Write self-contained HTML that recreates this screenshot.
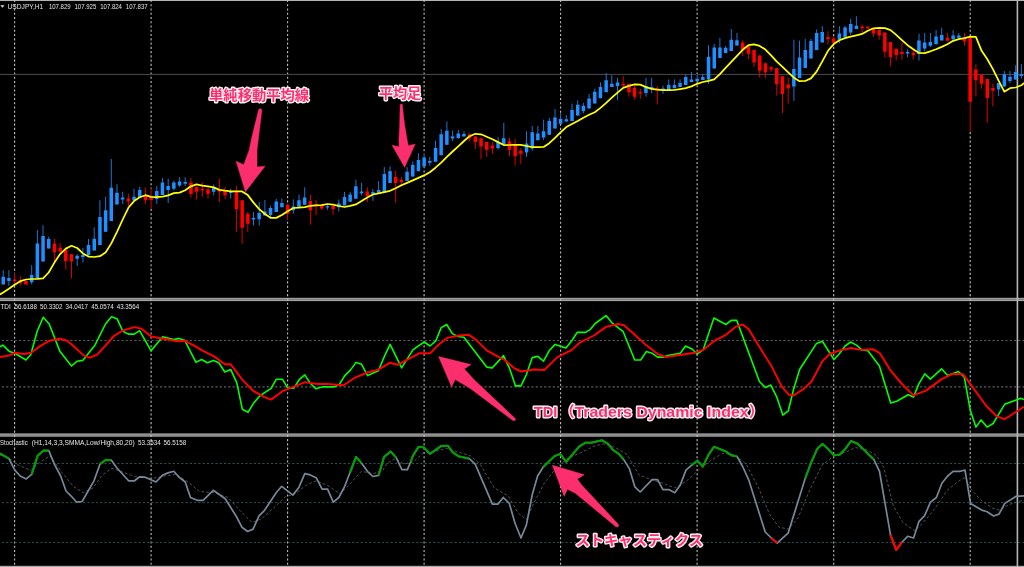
<!DOCTYPE html><html><head><meta charset="utf-8"><title>chart</title><style>html,body{margin:0;padding:0;background:#000;overflow:hidden}svg{display:block}text{font-family:"Liberation Sans",sans-serif}</style></head><body>
<svg width="1024" height="567" viewBox="0 0 1024 567">
<rect width="1024" height="567" fill="#000"/>
<rect x="0" y="297.8" width="1024" height="3.3" fill="#a4a4a4"/>
<rect x="0" y="298.8" width="1024" height="1.2" fill="#808080"/>
<rect x="0" y="433.4" width="1024" height="3.3" fill="#a4a4a4"/>
<rect x="0" y="434.5" width="1024" height="1.2" fill="#808080"/>
<rect x="0" y="0" width="1024" height="1" fill="#b4b4b4"/>
<rect x="0" y="565.8" width="1024" height="1.2" fill="#aaaaaa"/>
<path d="M14.6 -0.1V567M151.1 -0.1V567M287.6 -0.1V567M424.1 -0.1V567M560.6 -0.1V567M697.1 -0.1V567M833.7 -0.1V567M970.2 -0.1V567" stroke="#bebebe" stroke-width="1.1" stroke-dasharray="2.1 2.164" fill="none"/>
<path d="M0 74.4H1024" stroke="#4c4c4c" stroke-width="1"/>
<path d="M-2.35 340.5H1024M-2.35 386.8H1024" stroke="#5c5c5c" stroke-width="1.2" stroke-dasharray="2.2 2.07" fill="none"/>
<path d="M-2.35 463.5H1024M-2.35 502.6H1024M-2.35 542.45H1024" stroke="#26524f" stroke-width="1" stroke-dasharray="2.2 2.07" fill="none"/>
<path d="M1017.4 0V567" stroke="#b4b4b4" stroke-width="1.6"/>
<rect x="14" y="273.2" width="2" height="11.7" fill="#000"/>
<rect x="150" y="188.7" width="2" height="20.3" fill="#000"/>
<rect x="287" y="204.8" width="2" height="15" fill="#000"/>
<rect x="423" y="154" width="2" height="12.4" fill="#000"/>
<rect x="560" y="113" width="2" height="10.7" fill="#000"/>
<rect x="696" y="74" width="2" height="7.2" fill="#000"/>
<rect x="833" y="36" width="2" height="10" fill="#000"/>
<rect x="969" y="37.8" width="2" height="93.8" fill="#000"/>
<path d="M3.2 270.2V284.4M8.9 270.2V285.8M31.7 265.1V284.4M37.4 230V278.6M43 225.2V261.5M48.7 236.7V248.6M77.2 254.3V266M82.9 248V262.4M88.5 239V255.2M94.2 227.4V250.4M99.9 200.3V245M105.6 196.7V231.8M111.3 159V221M117 184.2V204.5M122.7 191.7V204M134 188.7V200.3M139.7 186.9V197.6M156.8 186V203.9M162.5 177.9V195M168.2 178.8V203M173.9 180.6V190.4M179.6 177V186.9M185.2 177.3V186M213.7 184.5V195.3M230.7 188.7V198.5M253.5 212V225.5M259.2 202.1V225.5M264.9 200V215.6M270.6 205.7V217M276.2 198.9V212M281.9 198.5V207.2M293.3 199.4V213.8M299 194.6V207.9M304.7 187.4V204.8M327.4 203.9V209.9M338.8 199.5V211.3M344.5 191.9V205.4M350.2 191.9V201.8M355.9 179.7V198.7M361.6 182.9V195.5M372.9 188.9V200.9M378.6 181.1V192.8M384.3 167.1V191.9M390 166.4V182.9M407.1 167.1V181.1M412.8 161.3V176.6M418.4 153.3V171.2M424.1 154V166.4M429.8 156.9V165.8M435.5 140.7V161.8M441.2 129.1V155.3M446.9 121.5V144.8M452.6 130.4V141.2M458.3 129.9V138.2M464 131.3V136.4M498.1 137.1V149.7M503.8 122.9V143.9M526.5 131.3V156.9M532.2 126V150.8M537.9 126V140.3M543.6 119.7V140M549.3 118V134.8M555 109.1V128.5M560.6 113V123.7M566.3 115.1V121.6M572 103.6V121M577.7 100.3V115.6M583.4 103V113.3M589.1 94V108.4M594.8 88.7V103.6M600.5 82.4V98.2M606.2 73V92.2M611.8 75.2V86.9M617.5 77.9V100.3M646 77.9V96.7M651.7 77.9V93.1M663 85.6V93.8M668.7 79.5V90M674.4 79.4V88.3M680.1 79.4V86.9M685.8 74.3V85.1M691.5 72.2V81.9M697.2 74V81.2M702.8 74V80.1M708.5 45.2V83.7M714.2 43.8V68.6M719.9 38V58.1M725.6 45.9V53.1M731.3 29V51M737 33V45.6M793.9 39.7V100.8M799.5 40.6V78M805.2 38.8V67.9M810.9 38.8V58.5M816.6 29.4V49.9M822.3 26.2V42.4M839.4 26.2V43.3M845 25.8V37M850.7 19V34.8M856.4 16.3V28.9M907.6 49.3V57.3M919 33.6V60.5M924.7 33V51.4M930.4 33V47.2M936.1 30.2V44.2M941.7 27.7V40.4M953.1 30.2V42.1M958.8 33V40M998.6 83.1V95.8M1004.3 71.1V86.5M1010 71.1V83.1M1015.7 65.3V79.5M1021.4 64.1V78.5" stroke="#1b82e8" stroke-width="0.92" fill="none"/>
<path d="M14.6 273.2V284.9M20.3 276.3V285.5M26 281V284.4M54.4 238.7V261.2M60.1 243.2V252.5M65.8 249.8V269.6M71.5 254.3V278.3M128.4 193.7V206.6M145.4 187.4V203.9M151.1 188.7V209M190.9 177.9V197.6M196.6 186.9V199.4M202.3 182.4V196.7M208 187.8V198.5M219.4 178.8V202.1M225.1 186.9V198.9M236.4 186V231.8M242.1 200.3V243.8M247.8 212V231.8M287.6 204.8V219.8M310.4 194.6V224.6M316.1 200V215.1M321.8 203.9V210M333.1 206V214.5M367.3 187.4V202.3M395.7 170.7V202.7M401.4 177.2V186.5M469.6 133.1V141.2M475.3 136.4V149M481 137V159.2M486.7 142.1V156.9M492.4 142.1V153.8M509.5 137.6V156.2M515.1 138.9V165.5M520.8 148V163.7M623.2 76.1V87.8M628.9 83.8V96.7M634.6 86V99.4M640.3 88.7V98.9M657.3 86V104.3M742.7 40.2V56M748.4 45.9V59M754 50.1V66.8M759.7 55.4V77.6M765.4 63.2V77.9M771.1 66V72.2M776.8 68V95.7M782.5 76.2V113M788.2 77.4V103.5M828 31.2V44.5M833.7 36V46M862.1 24.4V32.5M867.8 26.7V28.5M873.5 28V37M879.2 29.8V39.7M884.9 32.5V57.6M890.6 42V66.1M896.2 48.7V60.5M901.9 42.5V59.8M913.3 49.9V59.4M947.4 33V40.8M964.5 33V45.7M970.2 37.8V131.6M975.9 64.1V96.4M981.6 74.7V88.6M987.2 78.9V122.9M992.9 83.8V106.4" stroke="#e80000" stroke-width="0.95" fill="none"/>
<path d="M1.5 276.8h3.5V284.4h-3.5zM7.2 278.1h3.5V281h-3.5zM29.9 275h3.5V282.2h-3.5zM35.6 243.5h3.5V278.6h-3.5zM41.3 236h3.5V261.5h-3.5zM47 239h3.5V248.6h-3.5zM75.4 255.8h3.5V258.8h-3.5zM81.1 254.9h3.5V257h-3.5zM86.8 245h3.5V255.2h-3.5zM92.5 238.7h3.5V250.4h-3.5zM98.2 217h3.5V245h-3.5zM103.9 210.2h3.5V231.8h-3.5zM109.5 187.8h3.5V221h-3.5zM115.2 192.8h3.5V204.5h-3.5zM120.9 197.6h3.5V199.4h-3.5zM132.3 196.7h3.5V200.3h-3.5zM138 189.9h3.5V197.6h-3.5zM155 191h3.5V198.9h-3.5zM160.7 182.4h3.5V195h-3.5zM166.4 186h3.5V189.9h-3.5zM172.1 182.4h3.5V188.7h-3.5zM177.8 181.5h3.5V185.4h-3.5zM183.5 182h3.5V183.8h-3.5zM211.9 187.8h3.5V191.7h-3.5zM229 191h3.5V193.1h-3.5zM251.7 218h3.5V219.4h-3.5zM257.4 212.9h3.5V219.2h-3.5zM263.1 211.5h3.5V215.6h-3.5zM268.8 207.9h3.5V215.1h-3.5zM274.5 201.6h3.5V212h-3.5zM280.2 203h3.5V207.2h-3.5zM291.6 206.6h3.5V210.2h-3.5zM297.2 200.3h3.5V207.9h-3.5zM302.9 197.6h3.5V204.8h-3.5zM325.7 206.3h3.5V207.5h-3.5zM337.1 203.6h3.5V207.2h-3.5zM342.8 196.9h3.5V205.4h-3.5zM348.4 194.6h3.5V201.8h-3.5zM354.1 186.2h3.5V198.7h-3.5zM359.8 191.4h3.5V193.2h-3.5zM371.2 191.9h3.5V194.1h-3.5zM376.9 190.1h3.5V192.8h-3.5zM382.6 173.9h3.5V191.9h-3.5zM388.3 171.2h3.5V182.9h-3.5zM405.3 171.8h3.5V181.1h-3.5zM411 164.9h3.5V176.6h-3.5zM416.7 159.9h3.5V171.2h-3.5zM422.4 157.4h3.5V166.4h-3.5zM428.1 161h3.5V162.8h-3.5zM433.8 147.9h3.5V161.8h-3.5zM439.4 134.2h3.5V155.3h-3.5zM445.1 130.7h3.5V144.8h-3.5zM450.8 136.4h3.5V138.5h-3.5zM456.5 133.5h3.5V138.2h-3.5zM462.2 134h3.5V136.4h-3.5zM496.3 142.1h3.5V147.9h-3.5zM502 138.2h3.5V143.9h-3.5zM524.8 143.6h3.5V152.6h-3.5zM530.5 132.2h3.5V148.4h-3.5zM536.1 133.5h3.5V140.3h-3.5zM541.8 131.3h3.5V137.6h-3.5zM547.5 121h3.5V134.8h-3.5zM553.2 117.6h3.5V128.5h-3.5zM558.9 119.1h3.5V123.7h-3.5zM564.6 119.2h3.5V121.6h-3.5zM570.3 109.9h3.5V121h-3.5zM576 104.8h3.5V115.6h-3.5zM581.6 105.7h3.5V111.1h-3.5zM587.3 98.5h3.5V108.4h-3.5zM593 91.7h3.5V103.6h-3.5zM598.7 86.9h3.5V98.2h-3.5zM604.4 80.2h3.5V92.2h-3.5zM610.1 83.8h3.5V86.9h-3.5zM615.8 82.4h3.5V86h-3.5zM644.2 86h3.5V93.1h-3.5zM649.9 86.9h3.5V89.2h-3.5zM661.3 88.5h3.5V90.4h-3.5zM667 85h3.5V90h-3.5zM672.7 85.1h3.5V88.3h-3.5zM678.3 83h3.5V86.9h-3.5zM684 77h3.5V85.1h-3.5zM689.7 79.4h3.5V81.9h-3.5zM695.4 78.8h3.5V81.2h-3.5zM701.1 77h3.5V80.1h-3.5zM706.8 56.7h3.5V79.4h-3.5zM712.5 47.4h3.5V68.6h-3.5zM718.2 47.4h3.5V58.1h-3.5zM723.9 47.7h3.5V53.1h-3.5zM729.5 39.8h3.5V51h-3.5zM735.2 40.2h3.5V45.6h-3.5zM792.1 69h3.5V86.4h-3.5zM797.8 57.6h3.5V78h-3.5zM803.5 49.9h3.5V67.9h-3.5zM809.2 40.9h3.5V58.5h-3.5zM814.9 33h3.5V49.9h-3.5zM820.5 31.9h3.5V42.4h-3.5zM837.6 33.4h3.5V39.7h-3.5zM843.3 27.6h3.5V37h-3.5zM849 24h3.5V32.5h-3.5zM854.7 25.8h3.5V28.9h-3.5zM905.9 52h3.5V53.5h-3.5zM917.2 40.4h3.5V54.1h-3.5zM922.9 42.5h3.5V48.4h-3.5zM928.6 42.1h3.5V45.7h-3.5zM934.3 36.6h3.5V44.2h-3.5zM940 35.1h3.5V40.4h-3.5zM951.4 35.5h3.5V39.3h-3.5zM957.1 35.5h3.5V37.8h-3.5zM996.9 83.1h3.5V89.5h-3.5zM1002.6 74.2h3.5V86.5h-3.5zM1008.2 76.8h3.5V81h-3.5zM1013.9 72.1h3.5V79.5h-3.5zM1019.6 74.2h3.5V75.9h-3.5z" fill="#1e90ff"/>
<path d="M12.8 279.5h3.5V281h-3.5zM18.5 280.4h3.5V283.1h-3.5zM24.2 281h3.5V284.4h-3.5zM52.7 243.5h3.5V252.2h-3.5zM58.4 247.7h3.5V251.6h-3.5zM64 249.8h3.5V261h-3.5zM69.7 254.3h3.5V261.5h-3.5zM126.6 198.5h3.5V201.2h-3.5zM143.7 195h3.5V200.3h-3.5zM149.4 196.4h3.5V200h-3.5zM189.2 182.4h3.5V194h-3.5zM194.9 186.9h3.5V191.7h-3.5zM200.6 188.7h3.5V190.4h-3.5zM206.2 189.2h3.5V194h-3.5zM217.6 189.9h3.5V191.7h-3.5zM223.3 190.5h3.5V195.3h-3.5zM234.7 191.3h3.5V209.3h-3.5zM240.4 200.3h3.5V227.7h-3.5zM246.1 213.8h3.5V223.7h-3.5zM285.9 204.8h3.5V213.8h-3.5zM308.6 200.9h3.5V210.2h-3.5zM314.3 203.9h3.5V206.1h-3.5zM320 205.4h3.5V208.4h-3.5zM331.4 206h3.5V209h-3.5zM365.5 191.6h3.5V195.9h-3.5zM393.9 177h3.5V182.9h-3.5zM399.6 179.9h3.5V182h-3.5zM467.9 134.6h3.5V138.5h-3.5zM473.6 136.4h3.5V142.1h-3.5zM479.3 138.2h3.5V146.6h-3.5zM485 142.1h3.5V149.7h-3.5zM490.6 145.4h3.5V148.4h-3.5zM507.7 141.2h3.5V149.7h-3.5zM513.4 143.9h3.5V156.2h-3.5zM519.1 150.8h3.5V153.8h-3.5zM621.5 83.8h3.5V85.6h-3.5zM627.2 83.8h3.5V92.2h-3.5zM632.8 87.8h3.5V96.7h-3.5zM638.5 92.2h3.5V93.5h-3.5zM655.6 88.3h3.5V90.4h-3.5zM740.9 42.5h3.5V50.1h-3.5zM746.6 45.9h3.5V53.7h-3.5zM752.3 50.1h3.5V62.6h-3.5zM758 55.4h3.5V70.7h-3.5zM763.7 63.2h3.5V72.2h-3.5zM769.4 67.2h3.5V69.6h-3.5zM775 68h3.5V84.3h-3.5zM780.7 76.2h3.5V94.1h-3.5zM786.4 84.6h3.5V88.2h-3.5zM826.2 37h3.5V39.3h-3.5zM831.9 38.4h3.5V42.7h-3.5zM860.4 26.5h3.5V28.3h-3.5zM866 26.7h3.5V28.5h-3.5zM871.7 28h3.5V33.4h-3.5zM877.4 29.8h3.5V35.5h-3.5zM883.1 32.5h3.5V51.7h-3.5zM888.8 42h3.5V57.1h-3.5zM894.5 48.7h3.5V55h-3.5zM900.2 52h3.5V54.1h-3.5zM911.6 52.7h3.5V55.2h-3.5zM945.7 37.8h3.5V40.8h-3.5zM962.7 37.8h3.5V41.4h-3.5zM968.4 37.8h3.5V101.7h-3.5zM974.1 69.6h3.5V80.2h-3.5zM979.8 74.7h3.5V83.8h-3.5zM985.5 78.9h3.5V97.9h-3.5zM991.2 88h3.5V90.7h-3.5z" fill="#ff0000"/>
<polyline points="0,294.4 3.2,292.4 8.9,288.8 14.6,284.8 20.3,281.2 26,279.5 31.7,279 37.4,278.8 43,278.4 48.7,272.5 54.4,262.6 60.1,254.1 65.8,248.6 71.5,245.8 77.2,248 82.9,253.4 88.5,256.6 94.2,257 99.9,256.2 105.6,252.5 111.3,243.4 117,231.8 122.7,219.5 128.4,207.8 134,201.1 139.7,197.3 145.4,195.2 151.1,196.8 156.8,197.1 162.5,196.7 168.2,195.4 173.9,193.1 179.6,192.6 185.2,190.2 190.9,186.3 196.6,184.4 202.3,185.6 208,186.4 213.7,187.4 219.4,189.9 225.1,190.7 230.7,191.3 236.4,191.3 242.1,191.4 247.8,195.1 253.5,202.6 259.2,209.1 264.9,214 270.6,217.8 276.2,217.9 281.9,215 287.6,211.3 293.3,208 299,207.7 304.7,207.1 310.4,205.9 316.1,205.4 321.8,205.2 327.4,204 333.1,204.7 338.8,206 344.5,207 350.2,205.9 355.9,204.4 361.6,201.1 367.3,197.6 372.9,194.5 378.6,193.3 384.3,192.1 390,190.8 395.7,188.2 401.4,185.3 407.1,182.9 412.8,180.4 418.4,177.9 424.1,175.4 429.8,172.2 435.5,167.7 441.2,162.6 446.9,156.9 452.6,151.5 458.3,146.3 464,141 469.6,136.2 475.3,133.8 481,134.3 486.7,136.7 492.4,139.2 498.1,142.1 503.8,145.1 509.5,145 515.1,144.8 520.8,144.9 526.5,146 532.2,147.1 537.9,147.2 543.6,147 549.3,143.2 555,137.9 560.6,132.3 566.3,127.1 572,124.1 577.7,121.1 583.4,117.7 589.1,114.8 594.8,112.2 600.5,107.9 606.2,102.9 611.8,97.7 617.5,92.6 623.2,87.9 628.9,85.9 634.6,84.3 640.3,84.6 646,87.1 651.7,88.9 657.3,89.6 663,90.1 668.7,90.1 674.4,90 680.1,89.1 685.8,88.2 691.5,86.4 697.2,83.8 702.8,82 708.5,80.9 714.2,79.3 719.9,74.1 725.6,67.8 731.3,61.8 737,55.8 742.7,49.8 748.4,45.2 754,44.4 759.7,45.9 765.4,49.6 771.1,55.4 776.8,61.7 782.5,66.9 788.2,72.4 793.9,77.7 799.5,81.2 805.2,81 810.9,78.4 816.6,71.6 822.3,61.3 828,50.8 833.7,44.1 839.4,40.3 845,38.1 850.7,36.6 856.4,35.3 862.1,33.9 867.8,30.7 873.5,28.3 879.2,27.8 884.9,28.2 890.6,30.1 896.2,34.8 901.9,40.1 907.6,45.2 913.3,49.3 919,53 924.7,53.1 930.4,51.3 936.1,49.2 941.7,46.9 947.4,44.2 953.1,40.8 958.8,39.2 964.5,38.1 970.2,36.6 975.9,36.8 981.6,50.8 987.2,59 992.9,69.1 998.6,80.7 1004.3,91.7 1010,88.2 1015.7,87.5 1021.4,85.2 1024,83.1" fill="none" stroke="#ffff00" stroke-width="1.75" stroke-linejoin="round" stroke-linecap="round"/>
<clipPath id="c1"><rect x="0" y="301" width="1024" height="132.4"/></clipPath>
<g clip-path="url(#c1)" fill="none" stroke-linejoin="round" stroke-width="1.85">
<polyline points="0,346.8 2.9,345.1 9.6,351.6 14.9,353.2 25.9,360 30.7,354.7 37.2,331.2 43.2,317.3 49.2,324 60,351.6 71.5,366 77.2,361.2 82.7,360.4 94.7,345.6 105.5,324 111.5,316.8 117,318.7 122.8,331.2 128.3,334.1 134.3,334.1 139.6,330.7 151.1,350.8 162.6,336.7 173.9,339.6 178.7,338.4 184.7,340.3 196,362.4 201.5,359.5 207.3,362.8 213.5,360.4 218.8,362.8 224.8,372 230.8,369.6 236.8,382.8 242.3,409.2 248,412.3 253.6,403.2 259.6,396 271.1,388.3 276.4,379.2 282.4,379.2 287.9,388.3 293.7,388.3 299.2,379.7 304.7,374.9 310.5,383.5 316,388.8 322,386.9 334,386.9 339.3,384.5 344.8,375.6 350.8,369.6 356,362.4 361.6,364.3 367.6,375.6 378.4,370.8 384.4,356.4 390.1,344.4 401.6,367.9 412.9,349.9 418.8,345.6 424.4,342 429.9,346 435.6,341.2 441.2,327.6 446.7,324.5 452.4,333.6 457.9,336.5 463.9,337.2 486.7,367.1 492.2,367.9 503.5,355.6 509.5,368.3 515.5,385.9 521,385.9 526.3,374.8 532.3,357.6 537.8,356.4 543.5,361.2 549.1,350.8 555.1,344.4 565.9,348 571.8,340.8 577.2,332.4 585.6,332.4 590.4,329.3 595.2,323.5 606,315.6 612,322.8 623.2,331.7 634.7,360 640.7,360 646.3,351.6 652,353.2 657.5,357.1 663.5,357.1 668.8,355.2 680.3,353.2 685.6,346 692.3,349.2 697.1,354 703.1,349.9 713.9,318 725.9,324.5 731.2,320.4 736.7,320.4 759.4,381.5 765.3,387.5 770.8,385.1 776.8,397.1 782.8,415.1 788.3,410.8 793.6,389.2 799.6,369.5 816.4,343.6 822.4,341.2 833.9,359.5 839.1,354 845.1,346 850.6,342 856.4,345.1 861.9,349.9 867.9,350.8 879.4,365.9 890.7,403.1 896.7,401.2 908.2,394.7 913.5,397.1 918.8,383.9 924.8,373.9 930.3,379.1 941.6,368.8 947.6,375.5 958.3,371.5 964.3,377.2 970.3,410.3 975.9,427.1 981.1,419.9 987.1,427.1 993.1,423.5 1004.6,404.3 1020.7,398.3 1024,399.5" stroke="#00ff00" stroke-width="1.6"/>
<polyline points="0,357.1 8.4,355.6 14.9,352.8 24,354 31.2,352.8 40.8,345.6 49.2,340.8 60,338.8 67.1,340.8 74.3,346.8 83.9,355.6 89.9,357.6 97.1,354.7 105.5,345.6 113.9,336 122.3,330.7 134.3,327.1 141.5,328.8 151.1,336.5 163.1,338.8 177.5,341.2 184.7,340.8 194.2,345.6 202,350.4 214,356.4 224.8,364.3 230.8,364.3 242.8,380.4 253.6,391.2 264.4,397.2 271.1,399.6 282.4,391.2 293.2,386.9 305.2,382.1 317.2,384 326.8,384 343.6,385.2 355.6,377.3 367.6,372.5 378.4,369.6 389.6,362.8 398,364.7 408.8,358.8 419.6,353.2 430.4,353.2 438.8,344.4 447.1,337.9 459.1,335.5 468.7,334.8 475.9,339.6 486.7,350.4 497.5,356.4 504.7,360 514.3,368.3 521.5,371.5 533.5,369.5 544.2,370 557.5,357.1 571.8,349.9 579.6,342.7 594,335.5 606,326.9 618,324 624,325.2 634.7,334.8 646.7,345.6 657.5,354 665.9,357.1 677.9,355.2 694.7,352.8 703.1,349.9 713.9,341.2 725.9,334.8 735.5,326.9 742.7,324.5 748.7,329.3 759.4,346.8 772,367.1 781.6,386.3 788.8,394.7 793.6,395.4 803.2,389.2 811.6,381.5 822.4,361.2 829.5,354 841.5,349.9 851.1,348 860.7,349.9 872.7,349.2 879.9,353.2 890.7,370.7 901.5,383.5 913.5,395.4 926,390.6 941.6,379.1 952.8,373.9 963.1,374.3 970.3,383.9 985.9,405.5 996.7,416.3 1004.6,419.2 1014.7,412.7 1024,406.7" stroke="#ff0000" stroke-width="1.95"/>
</g>
<g fill="none" stroke-linejoin="round">
<polyline points="0,455 9.5,458.7 19,465.3 31,470.6 40.5,461.8 50,455.8 61.9,472.5 73.8,486.8 83.3,492.7 92.9,488 102.4,474.9 111.9,468.2 123.8,472.5 135.7,476.8 152.4,478.4 164.3,476 176.2,474.4 188.1,482 199.5,491.5 213.8,492.7 228.1,497.5 240,510.6 251.9,522.5 261.4,518.9 273.3,508.2 285.2,496.8 294.8,493.9 306.7,484.9 316.2,480.8 328.1,485.6 340,493.9 349.5,484.4 361.4,471.3 373.3,473.7 382.9,470.1 387.1,463 395.5,458.7 403.8,464.1 413.3,461.8 422.9,453.4 434.8,451.5 446.7,448.2 458.6,452.2 470.5,455.8 480,464.1 494.3,488 508.6,496.3 518.1,512.9 526.4,519.6 534.8,501 544.3,483.2 556.2,467.7 568.1,458.2 581.9,452.2 593.8,446.3 603.3,443.9 615.2,447.5 627.1,454.6 639,474.9 651,479.6 662.9,483.2 674.8,488 686.7,480.8 698.6,470.1 710.5,460.6 722.4,453.4 734.3,454.6 746.2,464.1 758.1,486.8 769.5,514.1 779,527.2 788.6,529.1 798.1,517.7 810,489.1 821.9,465.3 833.8,455.8 845.7,452.2 855.2,447.5 867.1,449.9 876.7,455.8 883.8,467.7 893.3,505.8 902.9,522.5 914.8,530.8 923.3,522.5 935.2,508.2 947.1,490.3 959,480.8 965,477.7 971,489.1 980.5,499.9 992.4,508.2 999.5,510.1 1009,504.6 1024,499.9" stroke="#5a5a5a" stroke-width="0.9" stroke-dasharray="2.8 2.1"/>
<polyline points="0,453.4 9,458.7 14.8,470.1 20.2,476 26.2,478.9 31.7,474.4 37.6,455.8 43.3,450.6 48.8,450.6 54.3,464.1 60.7,476 66,491 71.4,496.3 76.7,502.2 82.1,501.5 94,480.8 100,464.1 105.5,460.1 111.2,460.1 116.7,467.7 128.6,480.8 134.5,480.8 139.8,476.8 145.2,477.2 156,482 162.4,475.3 167.9,472.9 173.8,471.3 179,477.2 185.2,482 190.5,497.5 197.1,500.3 203.1,500.3 213.3,490.3 225.2,498.7 236.4,516.5 241.9,527.2 247.6,531.5 253.1,529.1 259,515.8 264.3,510.6 276.2,492.7 281.7,486.3 292.9,495.1 299,487.2 304.8,473.7 310.2,474.9 316.2,477.7 322.1,489.1 327.6,489.1 333.3,502.2 338.8,497.5 344.3,487.2 350,472.5 356,457 361.4,463 367.4,471.3 372.9,476.5 378.6,475.3 384,457 390.7,451.5 396.2,457.7 401.9,469.6 407.4,469.6 410.4,462.5 412.9,455.8 418.6,446.8 424,447.5 430,453.9 441.4,445.8 447.9,445.8 452.6,452.2 458.6,456.3 469.3,458.7 475.2,464.1 492.4,504.1 497.9,504.1 503.3,497.5 509.3,503.4 515.2,523.7 521,538 526.4,524.9 532.4,493.9 537.6,476 543.1,467.2 554.3,456.3 560.2,453.9 566.2,461.8 579.5,446.3 585.5,442.7 591,442.7 602.1,440.3 608.1,443.9 612.9,449.9 618.8,453.9 623.6,459.4 629.5,468.9 634.8,486.8 640.2,492 652.1,479.6 657.6,479.6 662.9,489.6 668.8,489.6 674.8,492.7 680,485.6 686,470.1 691.4,465.3 697.4,460.6 702.9,466.5 708.6,454.6 714,446.8 726,451.5 731.4,455.3 737.1,456.5 742.6,466.5 748.6,479.6 765.2,532 771.4,538 777.1,543.2 788.1,533.2 805.2,478.4 811.2,462.5 817.1,449.1 822.4,443.9 827.9,448.7 833.8,455.3 839.8,454.6 845.2,449.1 851,441 857.1,443.4 862.9,448.7 873.8,459.4 879.5,471.3 890.5,534.9 896.2,549.9 902.1,542 907.6,536.3 913.6,538 919,521.3 924.5,515.8 930.5,502.2 936.4,497.5 941.9,483.2 947.6,476 953.1,471.3 960.2,471.3 965,470.1 970.5,503.4 981.7,510.1 987.1,511.8 993.6,516 999,514.1 1004.8,503.4 1016.2,496.3 1024,495.8" stroke="#778899" stroke-width="1.7"/>
<polyline points="0,453.4 9,458.7" stroke="#00a000" stroke-width="2.1" stroke-linecap="butt"/>
<polyline points="31.7,474.4 37.6,455.8 43.3,450.6 48.8,450.6" stroke="#00a000" stroke-width="2.1" stroke-linecap="butt"/>
<polyline points="100,464.1 105.5,460.1 111.2,460.1" stroke="#00a000" stroke-width="2.1" stroke-linecap="butt"/>
<polyline points="350,472.5 356,457 361.4,463" stroke="#00a000" stroke-width="2.1" stroke-linecap="butt"/>
<polyline points="378.6,475.3 384,457 390.7,451.5 396.2,457.7" stroke="#00a000" stroke-width="2.1" stroke-linecap="butt"/>
<polyline points="410.4,462.5 412.9,455.8 418.6,446.8 424,447.5 430,453.9 441.4,445.8 447.9,445.8 452.6,452.2 458.6,456.3 469.3,458.7" stroke="#00a000" stroke-width="2.1" stroke-linecap="butt"/>
<polyline points="543.1,467.2 554.3,456.3 560.2,453.9 566.2,461.8 579.5,446.3 585.5,442.7 591,442.7 602.1,440.3 608.1,443.9 612.9,449.9 618.8,453.9 623.6,459.4" stroke="#00a000" stroke-width="2.1" stroke-linecap="butt"/>
<polyline points="691.4,465.3 697.4,460.6 702.9,466.5 708.6,454.6 714,446.8 726,451.5 731.4,455.3 737.1,456.5" stroke="#00a000" stroke-width="2.1" stroke-linecap="butt"/>
<polyline points="771.4,538 777.1,543.2" stroke="#ff0000" stroke-width="2.1" stroke-linecap="butt"/>
<polyline points="805.2,478.4 811.2,462.5 817.1,449.1 822.4,443.9 827.9,448.7 833.8,455.3 839.8,454.6 845.2,449.1 851,441 857.1,443.4 862.9,448.7 873.8,459.4" stroke="#00a000" stroke-width="2.1" stroke-linecap="butt"/>
<polyline points="890.5,534.9 896.2,549.9 902.1,542" stroke="#ff0000" stroke-width="2.1" stroke-linecap="butt"/>
</g>
<polygon points="258.5,110.2 259.2,109 261,108.8 261.9,109.8 258.6,137 257,150 257,167 265.1,166.2 245.4,191.8 236.1,161.2 243.8,164.8 249.2,150 251.9,137" fill="#fd2e6d" stroke="#fd2e6d" stroke-width="0.5" stroke-linejoin="round"/>
<polygon points="400.1,105 400.5,104.2 401.3,103.9 402.1,104.2 402.4,105 403.4,115 404.7,125.5 407,139.3 408.4,145.8 415.2,144.1 404.6,167.3 392.1,145.3 399.1,146.8 398.9,139.3 399.7,125.5 399.9,115" fill="#fd2e6d" stroke="#fd2e6d" stroke-width="0.5" stroke-linejoin="round"/>
<polygon points="514.8,418.1 515.7,419.5 514.7,420.8 512.9,420.5 470,388.3 455.2,379.5 451.6,386.9 438.6,356.6 471,364.6 464.3,368.9 474.4,380" fill="#fd2e6d" stroke="#fd2e6d" stroke-width="0.5" stroke-linejoin="round"/>
<polygon points="618.3,524.3 618.7,525.9 617.5,527 615.9,526.7 575,492.9 567.4,489.3 564.2,496.3 552.4,465.3 584.3,474.7 577.3,479 581.7,485" fill="#fd2e6d" stroke="#fd2e6d" stroke-width="0.5" stroke-linejoin="round"/>
<g fill="#ff2e6e" stroke="#fff0f4" stroke-width="2.8" stroke-linejoin="round" paint-order="stroke" style="paint-order:stroke;opacity:0.999">
<g><title>単純移動平均線 / 平均足 / ストキャスティクス / TDI（Traders Dynamic Index）</title>
<text x="209.1" y="99.6" font-size="14.1" font-weight="bold" textLength="99.9" lengthAdjust="spacingAndGlyphs" style="font-family:'Liberation Sans','Noto Sans CJK JP',sans-serif">単純移動平均線</text>
<text x="378.7" y="97.6" font-size="14" font-weight="bold" textLength="42.6" lengthAdjust="spacingAndGlyphs" style="font-family:'Liberation Sans','Noto Sans CJK JP',sans-serif">平均足</text>
<text x="575.4" y="544.7" font-size="14.1" font-weight="bold" textLength="127.6" lengthAdjust="spacingAndGlyphs" style="font-family:'Liberation Sans','Noto Sans CJK JP',sans-serif">ストキャスティクス</text>
<text x="560" y="417" font-size="14.6" font-weight="bold" style="font-family:'Liberation Sans','Noto Sans CJK JP',sans-serif">（</text>
<text x="749" y="417" font-size="14.6" font-weight="bold" style="font-family:'Liberation Sans','Noto Sans CJK JP',sans-serif">）</text>
</g>
<text x="533.7" y="416.9" font-size="15.2" font-weight="bold" textLength="23.6" lengthAdjust="spacingAndGlyphs">TDI</text>
<text x="574.4" y="416.9" font-size="15.2" font-weight="bold" textLength="174.2" lengthAdjust="spacingAndGlyphs">Traders Dynamic Index</text>
</g>
<filter id="sf" x="-2%" y="-20%" width="104%" height="140%"><feGaussianBlur stdDeviation="0.22"/></filter>
<g fill="#e4e4e4" font-size="6.9" filter="url(#sf)">
<path d="M0.3 5.2h4.2l-2.1 2.6z" fill="#d8d8d8"/>
<text x="7.5" y="8.5" textLength="35.8" lengthAdjust="spacingAndGlyphs">USDJPY,H1</text>
<text x="48.9" y="8.5" textLength="21.8" lengthAdjust="spacingAndGlyphs">107.829</text>
<text x="74.5" y="8.5" textLength="21.8" lengthAdjust="spacingAndGlyphs">107.925</text>
<text x="100.2" y="8.5" textLength="21.8" lengthAdjust="spacingAndGlyphs">107.824</text>
<text x="125.8" y="8.5" textLength="21.8" lengthAdjust="spacingAndGlyphs">107.837</text>
<text x="0.4" y="308.6" textLength="10.4" lengthAdjust="spacingAndGlyphs">TDI</text>
<text x="14.6" y="308.6" textLength="22.4" lengthAdjust="spacingAndGlyphs">56.6188</text>
<text x="40.1" y="308.6" textLength="22.4" lengthAdjust="spacingAndGlyphs">50.3302</text>
<text x="65.6" y="308.6" textLength="22.4" lengthAdjust="spacingAndGlyphs">34.0417</text>
<text x="91.2" y="308.6" textLength="22.4" lengthAdjust="spacingAndGlyphs">45.0574</text>
<text x="116.7" y="308.6" textLength="22.4" lengthAdjust="spacingAndGlyphs">43.3564</text>
<text x="0.1" y="444.6" textLength="27.6" lengthAdjust="spacingAndGlyphs">Stochastic</text>
<text x="31.8" y="444.6" textLength="102.9" lengthAdjust="spacingAndGlyphs">(H1,14,3,3,SMMA,Low/High,80,20)</text>
<text x="138.1" y="444.6" textLength="22.7" lengthAdjust="spacingAndGlyphs">53.3534</text>
<text x="163.5" y="444.6" textLength="22.7" lengthAdjust="spacingAndGlyphs">56.5158</text>
</g>
</svg></body></html>
